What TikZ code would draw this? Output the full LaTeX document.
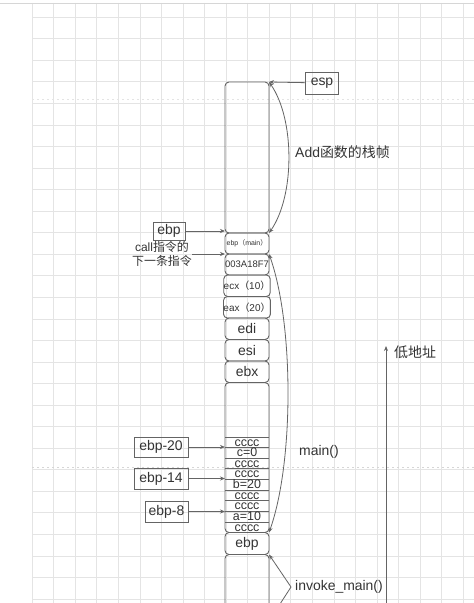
\documentclass[tikz,border=0pt]{standalone}
\usepackage{fontspec}
\setmainfont{Liberation Sans}
\newfontfamily\cjk{Noto Sans CJK SC}
\usetikzlibrary{arrows.meta,positioning,calc}
\definecolor{gridline}{RGB}{228,228,228}
\definecolor{boxline}{RGB}{100,100,100}
\definecolor{inkgray}{RGB}{51,51,51}

\begin{document}
\begin{tikzpicture}[
    x=1bp, y=-1bp,
    font=\fontsize{14}{16}\selectfont,
    cell/.style={rectangle, draw=boxline, line width=0.9bp, rounded corners=4bp, minimum width=44bp, minimum height=21.5bp, inner sep=0pt, outer sep=0pt, text=inkgray},
    regbox/.style={rectangle, draw=boxline, line width=0.9bp, minimum height=21bp, inner sep=2bp, text=inkgray},
    sidenote/.style={text=inkgray, inner sep=0pt, anchor=west},
    arrow/.style={-{Stealth[length=5bp,width=4bp]}, draw=boxline, line width=0.8bp},
    brace/.style={{Stealth[length=5bp,width=4bp]}-{Stealth[length=5bp,width=4bp]}, draw=boxline, line width=0.8bp}
]
    % page and grid
    \useasboundingbox (0,0) rectangle (474,603);
    \clip (0,0) rectangle (474,603);
    \fill[white] (0,0) rectangle (474,603);
    \foreach \gx in {0,...,20}
        \draw[gridline] ({32+21.55*\gx},3) -- ({32+21.55*\gx},603);
    \foreach \gy in {0,...,27}
        \draw[gridline] (32,{17+21.55*\gy}) -- (474,{17+21.55*\gy});
    \draw[gridline!150] (0,3) -- (474,3);
    \draw[gridline, dash pattern=on 2bp off 3bp] (32,99) -- (474,99);
    \draw[gridline!150, dash pattern=on 2bp off 3bp] (32,467) -- (474,467);

    % stack
    \node[cell, minimum height=151bp] (addframe) at (247,157.5) {};
    \node[cell, below=0pt of addframe, minimum height=21bp, font=\fontsize{7}{8}\selectfont] (ebpmain) {ebp{\cjk （}main{\cjk ）}};
    \node[cell, below=0pt of ebpmain, minimum height=21bp, font=\fontsize{9.5}{10}\selectfont] (retaddr) {003A18F7};
    \node[cell, below=0pt of retaddr, font=\fontsize{10}{11}\selectfont] (ecx) {ecx{\cjk （}10{\cjk ）}};
    \node[cell, below=0pt of ecx, font=\fontsize{10}{11}\selectfont] (eax) {eax{\cjk （}20{\cjk ）}};
    \node[cell, below=0pt of eax] (edi) {edi};
    \node[cell, below=0pt of edi] (esi) {esi};
    \node[cell, below=0pt of esi] (ebx) {ebx};
    \node[cell, below=0pt of ebx, minimum height=150bp] (mainframe) {};
    \node[cell, below=0pt of mainframe, minimum height=22bp] (ebpsave) {ebp};
    \node[cell, below=0pt of ebpsave, minimum height=80bp] (invoke) {};

    % locals of main
    \foreach \k in {0,...,8}
        \draw[boxline, line width=0.7bp] ($(mainframe.south west)+(0,{-10.61*(9-\k)})$) -- ($(mainframe.south east)+(0,{-10.61*(9-\k)})$);
    \foreach \txt [count=\k] in {cccc,c=0,cccc,cccc,b=20,cccc,cccc,a=10,cccc}
        \node[anchor=base, inner sep=0pt, text=inkgray, font=\fontsize{12.5}{14}\selectfont] (slot\k) at ($(mainframe.south)+(0,{-10.61*(9-\k)-1.5})$) {\txt};

    % registers
    \node[regbox, minimum width=33bp, minimum height=22bp] (esp) at (322,83) {esp};
    \node[regbox, minimum width=32bp, minimum height=18bp] (ebptop) at (169,231) {ebp};
    \node[text=inkgray, inner sep=0pt, align=center, font=\fontsize{12}{14}\selectfont] (calltext) at (162,254) {call{\cjk 指令的}\\{\cjk 下一条指令}};
    \node[regbox, minimum width=54bp, minimum height=20bp] (ebp20) at (161,447) {ebp-20};
    \node[regbox, minimum width=54bp] (ebp14) at (161,478.5) {ebp-14};
    \node[regbox, minimum width=43bp] (ebp8) at (166.5,511.5) {ebp-8};

    \draw[arrow] (esp) -- (addframe.north east);
    \draw[arrow] (ebptop.east) -- (ebptop.east -| addframe.west);
    \draw[arrow] (calltext.east) -- (calltext.east -| retaddr.west);
    \draw[arrow] (ebp20.east) -- (ebp20.east -| mainframe.west);
    \draw[arrow] (ebp14.east) -- (ebp14.east -| mainframe.west);
    \draw[arrow] (ebp8.east) -- (ebp8.east -| mainframe.west);

    % frames
    \draw[brace] (addframe.north east) .. controls +(26,37) and +(26,-37) .. (addframe.south east);
    \node[sidenote] (addlabel) at (295,152) {Add{\cjk 函数的栈帧}};
    \draw[brace] (retaddr.north east) .. controls +(25,70) and +(25,-70) .. (mainframe.south east);
    \node[sidenote] (mainlabel) at (299,452) {main()};
    \coordinate (invokekink) at (291,587);
    \draw[{Stealth[length=5bp,width=4bp]}-, draw=boxline, line width=0.8bp] (ebpsave.south east) -- (invokekink) -- ++(-22,34);
    \node[sidenote] (invokelabel) at (295,587) {invoke\_main()};

    % address direction
    \coordinate (lowfoot) at (386,603);
    \coordinate (lowtip) at (386,346);
    \draw[arrow] (lowfoot) -- (lowtip);
    \node[sidenote] (lowlabel) at (394,352) {\cjk 低地址};
\end{tikzpicture}
\end{document}
